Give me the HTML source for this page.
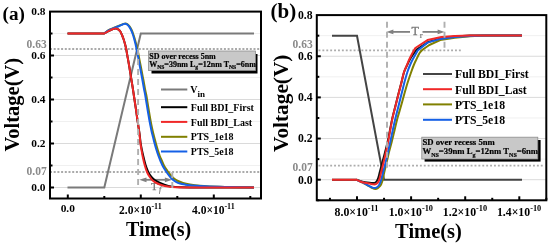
<!DOCTYPE html>
<html><head><meta charset="utf-8"><title>Figure</title>
<style>html,body{margin:0;padding:0;background:#fff;} svg{display:block;filter:blur(0.3px);}</style></head>
<body><svg width="550" height="247" viewBox="0 0 550 247">
<rect width="550" height="247" fill="#fff"/>
<line x1="50" y1="165.50" x2="261" y2="165.50" stroke="#f0f0f0" stroke-width="1"/>
<line x1="50" y1="121.50" x2="261" y2="121.50" stroke="#f0f0f0" stroke-width="1"/>
<line x1="50" y1="77.50" x2="261" y2="77.50" stroke="#f0f0f0" stroke-width="1"/>
<line x1="50" y1="33.50" x2="261" y2="33.50" stroke="#f0f0f0" stroke-width="1"/>
<line x1="50" y1="187.50" x2="261" y2="187.50" stroke="#dadada" stroke-width="1"/>
<line x1="50" y1="143.50" x2="261" y2="143.50" stroke="#dadada" stroke-width="1"/>
<line x1="50" y1="99.50" x2="261" y2="99.50" stroke="#dadada" stroke-width="1"/>
<line x1="50" y1="55.50" x2="261" y2="55.50" stroke="#dadada" stroke-width="1"/>
<line x1="50" y1="48.90" x2="261" y2="48.90" stroke="#aaaaaa" stroke-width="2" stroke-dasharray="2 1.7"/>
<line x1="50" y1="172.10" x2="261" y2="172.10" stroke="#aaaaaa" stroke-width="2" stroke-dasharray="2 1.7"/>
<g fill="#808080" stroke="#808080">
<line x1="145" y1="179.8" x2="166" y2="179.8" stroke-width="1.8"/>
<path d="M139.2,179.8 L146.5,177.4 L146.5,182.2 Z" stroke="none"/>
<path d="M172.2,179.8 L164.9,177.4 L164.9,182.2 Z" stroke="none"/>
</g>
<text x="151.1" y="190.1" style="font-family:'Liberation Serif',serif;font-size:11px;stroke:#7a7a7a;stroke-width:0.25" fill="#7a7a7a">T</text>
<text x="159.1" y="192.4" style="font-family:'Liberation Serif',serif;font-style:italic;font-size:8px;stroke:#7a7a7a;stroke-width:0.2" fill="#7a7a7a">f</text>
<path d="M67.50,187.50 L104.30,187.50 L140.80,33.50 L254.00,33.50" fill="none" stroke="#7a7a7a" stroke-width="2"/>
<path d="M67.50,33.50 L104.30,33.50 C105.08,33.05 107.55,31.55 109.00,30.80 C110.45,30.05 111.83,29.37 113.00,29.00 C114.17,28.63 115.08,28.50 116.00,28.60 C116.92,28.70 117.75,29.07 118.50,29.60 C119.25,30.13 119.92,30.90 120.50,31.80 C121.08,32.70 121.50,33.80 122.00,35.00 C122.50,36.20 123.00,37.50 123.50,39.00 C124.00,40.50 124.55,42.33 125.00,44.00 C125.45,45.67 125.83,47.17 126.20,49.00 C126.57,50.83 126.82,52.83 127.20,55.00 C127.58,57.17 128.03,59.33 128.50,62.00 C128.97,64.67 129.53,68.17 130.00,71.00 C130.47,73.83 130.87,76.33 131.30,79.00 C131.73,81.67 132.18,84.33 132.60,87.00 C133.02,89.67 133.40,92.33 133.80,95.00 C134.20,97.67 134.60,100.33 135.00,103.00 C135.40,105.67 135.82,108.33 136.20,111.00 C136.58,113.67 136.92,116.33 137.30,119.00 C137.68,121.67 138.10,124.33 138.50,127.00 C138.90,129.67 139.35,132.33 139.70,135.00 C140.05,137.67 140.23,140.50 140.60,143.00 C140.97,145.50 141.42,147.67 141.90,150.00 C142.38,152.33 142.88,154.50 143.50,157.00 C144.12,159.50 144.83,162.57 145.60,165.00 C146.37,167.43 147.17,169.68 148.10,171.60 C149.03,173.52 150.10,175.10 151.20,176.50 C152.30,177.90 153.23,178.92 154.70,180.00 C156.17,181.08 158.28,182.17 160.00,183.00 C161.72,183.83 163.17,184.42 165.00,185.00 C166.83,185.58 168.50,186.12 171.00,186.50 C173.50,186.88 176.00,187.13 180.00,187.30 C184.00,187.47 182.67,187.47 195.00,187.50 C207.33,187.53 244.17,187.50 254.00,187.50" fill="none" stroke="#000" stroke-width="2" stroke-linejoin="round"/>
<path d="M104.30,33.50 C104.75,33.13 106.05,31.97 107.00,31.30 C107.95,30.63 108.83,30.08 110.00,29.50 C111.17,28.92 112.67,28.33 114.00,27.80 C115.33,27.27 116.83,26.77 118.00,26.30 C119.17,25.83 120.17,25.37 121.00,25.00 C121.83,24.63 122.25,24.37 123.00,24.10 C123.75,23.83 124.75,23.38 125.50,23.40 C126.25,23.42 126.83,23.72 127.50,24.20 C128.17,24.68 128.83,25.37 129.50,26.30 C130.17,27.23 130.88,28.52 131.50,29.80 C132.12,31.08 132.65,32.47 133.20,34.00 C133.75,35.53 134.32,37.33 134.80,39.00 C135.28,40.67 135.68,42.33 136.10,44.00 C136.52,45.67 136.92,47.33 137.30,49.00 C137.68,50.67 138.05,52.25 138.40,54.00 C138.75,55.75 138.98,57.33 139.40,59.50 C139.82,61.67 140.40,64.42 140.90,67.00 C141.40,69.58 141.95,72.67 142.40,75.00 C142.85,77.33 143.17,78.67 143.60,81.00 C144.03,83.33 144.55,86.67 145.00,89.00 C145.45,91.33 145.87,92.67 146.30,95.00 C146.73,97.33 147.17,100.33 147.60,103.00 C148.03,105.67 148.48,108.50 148.90,111.00 C149.32,113.50 149.68,115.67 150.10,118.00 C150.52,120.33 150.97,122.83 151.40,125.00 C151.83,127.17 152.23,129.00 152.70,131.00 C153.17,133.00 153.68,135.00 154.20,137.00 C154.72,139.00 155.20,140.83 155.80,143.00 C156.40,145.17 157.13,147.83 157.80,150.00 C158.47,152.17 159.10,154.17 159.80,156.00 C160.50,157.83 161.22,159.25 162.00,161.00 C162.78,162.75 163.58,164.83 164.50,166.50 C165.42,168.17 166.50,169.58 167.50,171.00 C168.50,172.42 169.42,173.75 170.50,175.00 C171.58,176.25 172.75,177.50 174.00,178.50 C175.25,179.50 176.50,180.25 178.00,181.00 C179.50,181.75 181.00,182.42 183.00,183.00 C185.00,183.58 187.17,184.03 190.00,184.50 C192.83,184.97 196.67,185.48 200.00,185.80 C203.33,186.12 205.83,186.22 210.00,186.40 C214.17,186.58 220.00,186.77 225.00,186.90 C230.00,187.03 235.17,187.12 240.00,187.20 C244.83,187.28 251.67,187.37 254.00,187.40" fill="none" stroke="#808000" stroke-width="2" stroke-linejoin="round"/>
<path d="M104.30,33.50 C104.75,33.15 106.05,32.05 107.00,31.40 C107.95,30.75 108.83,30.17 110.00,29.60 C111.17,29.03 112.67,28.52 114.00,28.00 C115.33,27.48 116.83,26.97 118.00,26.50 C119.17,26.03 120.17,25.57 121.00,25.20 C121.83,24.83 122.33,24.55 123.00,24.30 C123.67,24.05 124.33,23.70 125.00,23.70 C125.67,23.70 126.33,23.87 127.00,24.30 C127.67,24.73 128.33,25.38 129.00,26.30 C129.67,27.22 130.38,28.52 131.00,29.80 C131.62,31.08 132.17,32.47 132.70,34.00 C133.23,35.53 133.73,37.33 134.20,39.00 C134.67,40.67 135.10,42.33 135.50,44.00 C135.90,45.67 136.25,47.33 136.60,49.00 C136.95,50.67 137.27,52.25 137.60,54.00 C137.93,55.75 138.20,57.33 138.60,59.50 C139.00,61.67 139.52,64.42 140.00,67.00 C140.48,69.58 141.07,72.67 141.50,75.00 C141.93,77.33 142.18,78.67 142.60,81.00 C143.02,83.33 143.57,86.67 144.00,89.00 C144.43,91.33 144.78,92.67 145.20,95.00 C145.62,97.33 146.07,100.33 146.50,103.00 C146.93,105.67 147.38,108.50 147.80,111.00 C148.22,113.50 148.58,115.67 149.00,118.00 C149.42,120.33 149.88,122.83 150.30,125.00 C150.72,127.17 151.05,129.00 151.50,131.00 C151.95,133.00 152.50,135.00 153.00,137.00 C153.50,139.00 153.92,140.83 154.50,143.00 C155.08,145.17 155.83,147.83 156.50,150.00 C157.17,152.17 157.83,154.17 158.50,156.00 C159.17,157.83 159.75,159.25 160.50,161.00 C161.25,162.75 162.00,164.67 163.00,166.50 C164.00,168.33 165.50,170.50 166.50,172.00 C167.50,173.50 168.08,174.33 169.00,175.50 C169.92,176.67 170.83,177.95 172.00,179.00 C173.17,180.05 174.67,181.05 176.00,181.80 C177.33,182.55 178.50,183.03 180.00,183.50 C181.50,183.97 183.33,184.30 185.00,184.60 C186.67,184.90 187.50,185.07 190.00,185.30 C192.50,185.53 196.67,185.80 200.00,186.00 C203.33,186.20 205.83,186.35 210.00,186.50 C214.17,186.65 220.00,186.78 225.00,186.90 C230.00,187.02 235.17,187.12 240.00,187.20 C244.83,187.28 251.67,187.37 254.00,187.40" fill="none" stroke="#1560e6" stroke-width="2" stroke-linejoin="round"/>
<path d="M67.50,33.50 L104.30,33.50 C105.08,33.05 107.55,31.55 109.00,30.80 C110.45,30.05 111.83,29.37 113.00,29.00 C114.17,28.63 115.08,28.50 116.00,28.60 C116.92,28.70 117.75,29.07 118.50,29.60 C119.25,30.13 119.92,30.90 120.50,31.80 C121.08,32.70 121.50,33.80 122.00,35.00 C122.50,36.20 123.00,37.50 123.50,39.00 C124.00,40.50 124.55,42.33 125.00,44.00 C125.45,45.67 125.83,47.17 126.20,49.00 C126.57,50.83 126.82,52.83 127.20,55.00 C127.58,57.17 128.03,59.33 128.50,62.00 C128.97,64.67 129.53,68.17 130.00,71.00 C130.47,73.83 130.87,76.33 131.30,79.00 C131.73,81.67 132.18,84.33 132.60,87.00 C133.02,89.67 133.40,92.33 133.80,95.00 C134.20,97.67 134.60,100.33 135.00,103.00 C135.40,105.67 135.82,108.33 136.20,111.00 C136.58,113.67 136.92,116.33 137.30,119.00 C137.68,121.67 138.12,124.33 138.50,127.00 C138.88,129.67 139.28,132.33 139.60,135.00 C139.92,137.67 140.08,140.50 140.40,143.00 C140.72,145.50 141.10,147.67 141.50,150.00 C141.90,152.33 142.27,154.50 142.80,157.00 C143.33,159.50 144.00,162.50 144.70,165.00 C145.40,167.50 146.15,170.00 147.00,172.00 C147.85,174.00 148.80,175.55 149.80,177.00 C150.80,178.45 151.72,179.62 153.00,180.70 C154.28,181.78 156.00,182.73 157.50,183.50 C159.00,184.27 160.25,184.80 162.00,185.30 C163.75,185.80 165.67,186.18 168.00,186.50 C170.33,186.82 172.33,187.03 176.00,187.20 C179.67,187.37 177.00,187.45 190.00,187.50 C203.00,187.55 243.33,187.50 254.00,187.50" fill="none" stroke="#f02828" stroke-width="2" stroke-linejoin="round"/>
<line x1="138.1" y1="49" x2="138.1" y2="185" stroke="#b0b0b0" stroke-width="1.9" stroke-dasharray="5.9 4.1"/>
<line x1="172.3" y1="172" x2="172.3" y2="188" stroke="#b0b0b0" stroke-width="1.9" stroke-dasharray="5.9 4.1"/>
<rect x="50" y="11.6" width="211" height="186.9" fill="none" stroke="#000" stroke-width="2"/>
<line x1="50" y1="187.50" x2="54" y2="187.50" stroke="#000" stroke-width="2"/>
<line x1="50" y1="143.50" x2="54" y2="143.50" stroke="#000" stroke-width="2"/>
<line x1="50" y1="99.50" x2="54" y2="99.50" stroke="#000" stroke-width="2"/>
<line x1="50" y1="55.50" x2="54" y2="55.50" stroke="#000" stroke-width="2"/>
<line x1="50" y1="165.50" x2="52.5" y2="165.50" stroke="#000" stroke-width="2"/>
<line x1="50" y1="121.50" x2="52.5" y2="121.50" stroke="#000" stroke-width="2"/>
<line x1="50" y1="77.50" x2="52.5" y2="77.50" stroke="#000" stroke-width="2"/>
<line x1="50" y1="33.50" x2="52.5" y2="33.50" stroke="#000" stroke-width="2"/>
<line x1="67.80" y1="198.5" x2="67.80" y2="194.5" stroke="#000" stroke-width="2"/>
<line x1="140.80" y1="198.5" x2="140.80" y2="194.5" stroke="#000" stroke-width="2"/>
<line x1="213.80" y1="198.5" x2="213.80" y2="194.5" stroke="#000" stroke-width="2"/>
<line x1="104.30" y1="198.5" x2="104.30" y2="196.0" stroke="#000" stroke-width="2"/>
<line x1="177.30" y1="198.5" x2="177.30" y2="196.0" stroke="#000" stroke-width="2"/>
<line x1="250.30" y1="198.5" x2="250.30" y2="196.0" stroke="#000" stroke-width="2"/>
<rect x="151.5" y="54" width="106" height="19.5" fill="#000"/>
<rect x="148.5" y="51" width="107" height="19.5" fill="#c8c8c8" stroke="#8c8c8c" stroke-width="0.8"/>
<text x="149.2" y="58.6" style="font-family:'Liberation Serif','Times New Roman',serif;font-weight:bold;font-size:8px;stroke:#000;stroke-width:0.2" fill="#000">SD over recess 5nm</text>
<text x="149.2" y="66.6" style="font-family:'Liberation Serif','Times New Roman',serif;font-weight:bold;font-size:8px;stroke:#000;stroke-width:0.2" fill="#000">W<tspan dy="2.6" style="font-size:5.6px">NS</tspan><tspan dy="-2.6">=39nm L</tspan><tspan dy="2.6" style="font-size:5.6px">g</tspan><tspan dy="-2.6">=12nm T</tspan><tspan dy="2.6" style="font-size:5.6px">NS</tspan><tspan dy="-2.6">=6nm</tspan></text>
<line x1="161" y1="89.5" x2="187.3" y2="89.5" stroke="#7a7a7a" stroke-width="2"/>
<line x1="161" y1="107.2" x2="187.3" y2="107.2" stroke="#000" stroke-width="2"/>
<text x="190.8" y="110.8" style="font-family:'Liberation Serif','Times New Roman',serif;font-weight:bold;font-size:10px" fill="#000">Full BDI_First</text>
<line x1="161" y1="121.9" x2="187.3" y2="121.9" stroke="#f02828" stroke-width="2"/>
<text x="190.8" y="125.5" style="font-family:'Liberation Serif','Times New Roman',serif;font-weight:bold;font-size:10px" fill="#000">Full BDI_Last</text>
<line x1="161" y1="136.8" x2="187.3" y2="136.8" stroke="#808000" stroke-width="2"/>
<text x="190.8" y="140.4" style="font-family:'Liberation Serif','Times New Roman',serif;font-weight:bold;font-size:10px" fill="#000">PTS_1e18</text>
<line x1="161" y1="151.5" x2="187.3" y2="151.5" stroke="#1560e6" stroke-width="2"/>
<text x="190.8" y="155.1" style="font-family:'Liberation Serif','Times New Roman',serif;font-weight:bold;font-size:10px" fill="#000">PTS_5e18</text>
<text x="190.3" y="93.3" style="font-family:'Liberation Serif','Times New Roman',serif;font-weight:bold;font-size:10px" fill="#000">V<tspan dy="3.5" style="font-size:9px">in</tspan></text>
<text x="2.6" y="19.9" style="font-family:'Liberation Serif','Times New Roman',serif;font-weight:bold;font-size:19.2px" fill="#000">(a)</text>
<text x="45.5" y="15.40" text-anchor="end" style="font-family:'Liberation Serif','Times New Roman',serif;font-weight:bold;font-size:11.4px" fill="#000">0.8</text>
<text x="45.5" y="59.40" text-anchor="end" style="font-family:'Liberation Serif','Times New Roman',serif;font-weight:bold;font-size:11.4px" fill="#000">0.6</text>
<text x="45.5" y="103.40" text-anchor="end" style="font-family:'Liberation Serif','Times New Roman',serif;font-weight:bold;font-size:11.4px" fill="#000">0.4</text>
<text x="45.5" y="147.40" text-anchor="end" style="font-family:'Liberation Serif','Times New Roman',serif;font-weight:bold;font-size:11.4px" fill="#000">0.2</text>
<text x="45.5" y="191.40" text-anchor="end" style="font-family:'Liberation Serif','Times New Roman',serif;font-weight:bold;font-size:11.4px" fill="#000">0.0</text>
<text x="46.7" y="48.0" text-anchor="end" style="font-family:'Liberation Serif','Times New Roman',serif;font-weight:bold;font-size:11.5px" fill="#8a8a8a">0.63</text>
<text x="46.7" y="174.5" text-anchor="end" style="font-family:'Liberation Serif','Times New Roman',serif;font-weight:bold;font-size:11.5px" fill="#8a8a8a">0.07</text>
<text transform="translate(18.8,104.7) rotate(-90)" text-anchor="middle" style="font-family:'Liberation Serif','Times New Roman',serif;font-weight:bold;font-size:20.5px" fill="#000">Voltage(V)</text>
<text x="67.8" y="211.9" text-anchor="middle" style="font-family:'Liberation Serif','Times New Roman',serif;font-weight:bold;font-size:11.4px" fill="#000">0.0</text>
<text x="119.00" y="213.6" style="font-family:'Liberation Serif','Times New Roman',serif;font-weight:bold;font-size:11.5px" fill="#000">2.0×10<tspan dy="-4.4" style="font-size:8px">-11</tspan></text>
<text x="192.00" y="213.6" style="font-family:'Liberation Serif','Times New Roman',serif;font-weight:bold;font-size:11.5px" fill="#000">4.0×10<tspan dy="-4.4" style="font-size:8px">-11</tspan></text>
<text x="158.6" y="236.0" text-anchor="middle" style="font-family:'Liberation Serif','Times New Roman',serif;font-weight:bold;font-size:20px" fill="#000">Time(s)</text>
<line x1="316.8" y1="159.12" x2="546.3" y2="159.12" stroke="#f0f0f0" stroke-width="1"/>
<line x1="316.8" y1="117.97" x2="546.3" y2="117.97" stroke="#f0f0f0" stroke-width="1"/>
<line x1="316.8" y1="76.82" x2="546.3" y2="76.82" stroke="#f0f0f0" stroke-width="1"/>
<line x1="316.8" y1="35.68" x2="546.3" y2="35.68" stroke="#f0f0f0" stroke-width="1"/>
<line x1="316.8" y1="179.70" x2="546.3" y2="179.70" stroke="#dadada" stroke-width="1"/>
<line x1="316.8" y1="138.55" x2="546.3" y2="138.55" stroke="#dadada" stroke-width="1"/>
<line x1="316.8" y1="97.40" x2="546.3" y2="97.40" stroke="#dadada" stroke-width="1"/>
<line x1="316.8" y1="56.25" x2="546.3" y2="56.25" stroke="#dadada" stroke-width="1"/>
<line x1="318.5" y1="50.4" x2="462" y2="50.4" stroke="#acacac" stroke-width="1.9" stroke-dasharray="1.9 2.0"/>
<line x1="318.5" y1="165.6" x2="544" y2="165.6" stroke="#acacac" stroke-width="1.9" stroke-dasharray="1.9 2.0"/>
<g fill="#808080" stroke="#808080">
<line x1="392" y1="31.9" x2="410" y2="31.9" stroke-width="1.8"/>
<line x1="422.5" y1="31.9" x2="439" y2="31.9" stroke-width="1.8"/>
<path d="M386.4,31.9 L393.4,29.6 L393.4,34.2 Z" stroke="none"/>
<path d="M444.6,31.9 L437.6,29.6 L437.6,34.2 Z" stroke="none"/>
</g>
<text x="411.4" y="34.9" style="font-family:'Liberation Serif',serif;font-size:12.2px;stroke:#787878;stroke-width:0.3" fill="#787878">T</text>
<text x="419.8" y="38.2" style="font-family:'Liberation Serif',serif;font-size:8.5px;stroke:#787878;stroke-width:0.2" fill="#787878">r</text>
<path d="M332.00,35.70 L357.00,35.70 L384.00,179.70 L522.00,179.70" fill="none" stroke="#444444" stroke-width="2"/>
<path d="M332.00,179.70 L356.50,179.70 C357.22,179.97 359.38,180.88 360.80,181.30 C362.22,181.72 363.53,181.95 365.00,182.20 C366.47,182.45 368.27,182.67 369.60,182.80 C370.93,182.93 372.03,183.03 373.00,183.00 C373.97,182.97 374.73,182.97 375.40,182.60 C376.07,182.23 376.52,181.60 377.00,180.80 C377.48,180.00 377.83,179.27 378.30,177.80 C378.77,176.33 379.20,174.30 379.80,172.00 C380.40,169.70 381.10,167.00 381.90,164.00 C382.70,161.00 383.65,157.67 384.60,154.00 C385.55,150.33 386.70,146.00 387.60,142.00 C388.50,138.00 389.20,134.00 390.00,130.00 C390.80,126.00 391.50,122.00 392.40,118.00 C393.30,114.00 394.40,110.00 395.40,106.00 C396.40,102.00 397.42,97.83 398.40,94.00 C399.38,90.17 400.35,86.67 401.30,83.00 C402.25,79.33 403.10,75.03 404.10,72.00 C405.10,68.97 406.22,67.10 407.30,64.80 C408.38,62.50 409.05,60.73 410.60,58.20 C412.15,55.67 415.60,51.03 416.60,49.60 L428.50,41.90 L442.00,38.20 L455.00,36.40 L470.00,35.60 L485.00,35.45 L522.00,35.40" fill="none" stroke="#111" stroke-width="2" stroke-linejoin="round"/>
<path d="M356.50,179.70 C357.22,180.05 359.63,181.25 360.80,181.80 C361.97,182.35 362.52,182.50 363.50,183.00 C364.48,183.50 365.62,184.18 366.70,184.80 C367.78,185.42 369.03,186.13 370.00,186.70 C370.97,187.27 371.60,187.82 372.50,188.20 C373.40,188.58 374.52,189.00 375.40,189.00 C376.28,189.00 377.00,188.70 377.80,188.20 C378.60,187.70 379.58,186.78 380.20,186.00 C380.82,185.22 381.08,184.55 381.50,183.50 C381.92,182.45 382.27,181.45 382.70,179.70 C383.13,177.95 383.47,175.78 384.10,173.00 C384.73,170.22 385.68,166.50 386.50,163.00 C387.32,159.50 388.13,155.50 389.00,152.00 C389.87,148.50 390.77,145.67 391.70,142.00 C392.63,138.33 393.63,134.00 394.60,130.00 C395.57,126.00 396.43,122.00 397.50,118.00 C398.57,114.00 399.87,110.00 401.00,106.00 C402.13,102.00 403.22,97.83 404.30,94.00 C405.38,90.17 406.35,86.67 407.50,83.00 C408.65,79.33 410.15,75.00 411.20,72.00 C412.25,69.00 412.93,67.10 413.80,65.00 C414.67,62.90 415.43,61.40 416.40,59.40 C417.37,57.40 418.47,54.70 419.60,53.00 C420.73,51.30 422.60,49.83 423.20,49.20 L429.30,45.00 L440.20,40.10 L454.80,37.80 L470.00,36.30 L485.00,35.60 L522.00,35.40" fill="none" stroke="#808000" stroke-width="2" stroke-linejoin="round"/>
<path d="M356.50,179.70 C357.22,180.03 359.63,181.18 360.80,181.70 C361.97,182.22 362.52,182.32 363.50,182.80 C364.48,183.28 365.62,184.00 366.70,184.60 C367.78,185.20 369.03,185.90 370.00,186.40 C370.97,186.90 371.77,187.33 372.50,187.60 C373.23,187.87 373.73,188.02 374.40,188.00 C375.07,187.98 375.77,187.92 376.50,187.50 C377.23,187.08 378.22,186.25 378.80,185.50 C379.38,184.75 379.60,183.97 380.00,183.00 C380.40,182.03 380.67,181.53 381.20,179.70 C381.73,177.87 382.48,174.78 383.20,172.00 C383.92,169.22 384.70,166.33 385.50,163.00 C386.30,159.67 387.20,155.50 388.00,152.00 C388.80,148.50 389.50,145.67 390.30,142.00 C391.10,138.33 391.93,134.00 392.80,130.00 C393.67,126.00 394.55,122.00 395.50,118.00 C396.45,114.00 397.50,110.00 398.50,106.00 C399.50,102.00 400.50,98.00 401.50,94.00 C402.50,90.00 403.52,85.67 404.50,82.00 C405.48,78.33 406.40,75.00 407.40,72.00 C408.40,69.00 409.48,66.33 410.50,64.00 C411.52,61.67 412.30,60.25 413.50,58.00 C414.70,55.75 417.00,51.75 417.70,50.50 L427.50,42.60 L440.20,38.90 L454.80,36.90 L470.00,35.90 L485.00,35.50 L522.00,35.40" fill="none" stroke="#1560e6" stroke-width="2" stroke-linejoin="round"/>
<path d="M332.00,179.70 L356.50,179.70 C357.22,180.03 359.38,181.18 360.80,181.70 C362.22,182.22 363.53,182.48 365.00,182.80 C366.47,183.12 368.35,183.37 369.60,183.60 C370.85,183.83 371.70,184.07 372.50,184.20 C373.30,184.33 373.77,184.47 374.40,184.40 C375.03,184.33 375.73,184.10 376.30,183.80 C376.87,183.50 377.35,183.18 377.80,182.60 C378.25,182.02 378.67,181.10 379.00,180.30 C379.33,179.50 379.43,179.18 379.80,177.80 C380.17,176.42 380.63,174.30 381.20,172.00 C381.77,169.70 382.48,167.00 383.20,164.00 C383.92,161.00 384.70,157.67 385.50,154.00 C386.30,150.33 387.22,146.00 388.00,142.00 C388.78,138.00 389.45,134.00 390.20,130.00 C390.95,126.00 391.62,122.00 392.50,118.00 C393.38,114.00 394.50,110.00 395.50,106.00 C396.50,102.00 397.53,97.83 398.50,94.00 C399.47,90.17 400.38,86.67 401.30,83.00 C402.22,79.33 403.05,75.00 404.00,72.00 C404.95,69.00 406.02,67.33 407.00,65.00 C407.98,62.67 408.52,60.83 409.90,58.00 C411.28,55.17 414.40,49.67 415.30,48.00 L427.50,40.10 L441.40,37.10 L454.80,35.90 L470.00,35.50 L485.00,35.42 L522.00,35.40" fill="none" stroke="#f02828" stroke-width="2" stroke-linejoin="round"/>
<line x1="387" y1="21.8" x2="387" y2="168" stroke="#b0b0b0" stroke-width="1.9" stroke-dasharray="5.9 4.1"/>
<line x1="444.5" y1="21.8" x2="444.5" y2="51" stroke="#b0b0b0" stroke-width="1.9" stroke-dasharray="5.9 4.1"/>
<rect x="316.8" y="15.1" width="229.49999999999994" height="185.20000000000002" fill="none" stroke="#000" stroke-width="2"/>
<line x1="316.8" y1="179.70" x2="320.8" y2="179.70" stroke="#000" stroke-width="2"/>
<line x1="316.8" y1="138.55" x2="320.8" y2="138.55" stroke="#000" stroke-width="2"/>
<line x1="316.8" y1="97.40" x2="320.8" y2="97.40" stroke="#000" stroke-width="2"/>
<line x1="316.8" y1="56.25" x2="320.8" y2="56.25" stroke="#000" stroke-width="2"/>
<line x1="316.8" y1="200.27" x2="319.3" y2="200.27" stroke="#000" stroke-width="2"/>
<line x1="316.8" y1="159.12" x2="319.3" y2="159.12" stroke="#000" stroke-width="2"/>
<line x1="316.8" y1="117.97" x2="319.3" y2="117.97" stroke="#000" stroke-width="2"/>
<line x1="316.8" y1="76.82" x2="319.3" y2="76.82" stroke="#000" stroke-width="2"/>
<line x1="316.8" y1="35.68" x2="319.3" y2="35.68" stroke="#000" stroke-width="2"/>
<line x1="357.00" y1="200.3" x2="357.00" y2="196.3" stroke="#000" stroke-width="2"/>
<line x1="411.10" y1="200.3" x2="411.10" y2="196.3" stroke="#000" stroke-width="2"/>
<line x1="465.20" y1="200.3" x2="465.20" y2="196.3" stroke="#000" stroke-width="2"/>
<line x1="519.30" y1="200.3" x2="519.30" y2="196.3" stroke="#000" stroke-width="2"/>
<line x1="329.95" y1="200.3" x2="329.95" y2="197.8" stroke="#000" stroke-width="2"/>
<line x1="384.05" y1="200.3" x2="384.05" y2="197.8" stroke="#000" stroke-width="2"/>
<line x1="438.15" y1="200.3" x2="438.15" y2="197.8" stroke="#000" stroke-width="2"/>
<line x1="492.25" y1="200.3" x2="492.25" y2="197.8" stroke="#000" stroke-width="2"/>
<line x1="546.35" y1="200.3" x2="546.35" y2="197.8" stroke="#000" stroke-width="2"/>
<rect x="424.6" y="140" width="116" height="21.6" fill="#000"/>
<rect x="421.8" y="137.2" width="116" height="21.8" fill="#c8c8c8" stroke="#8c8c8c" stroke-width="0.8"/>
<text x="422.5" y="144.9" style="font-family:'Liberation Serif','Times New Roman',serif;font-weight:bold;font-size:8.7px;stroke:#000;stroke-width:0.2" fill="#000">SD over recess 5nm</text>
<text x="422.5" y="153.8" style="font-family:'Liberation Serif','Times New Roman',serif;font-weight:bold;font-size:8.7px;stroke:#000;stroke-width:0.2" fill="#000">W<tspan dy="3" style="font-size:6px">NS</tspan><tspan dy="-3">=39nm L</tspan><tspan dy="3" style="font-size:6px">g</tspan><tspan dy="-3">=12nm T</tspan><tspan dy="3" style="font-size:6px">NS</tspan><tspan dy="-3">=6nm</tspan></text>
<line x1="423" y1="74" x2="452" y2="74" stroke="#444444" stroke-width="2"/>
<text x="455" y="78.4" style="font-family:'Liberation Serif','Times New Roman',serif;font-weight:bold;font-size:11.7px" fill="#000">Full BDI_First</text>
<line x1="423" y1="89.2" x2="452" y2="89.2" stroke="#f02828" stroke-width="2"/>
<text x="455" y="93.6" style="font-family:'Liberation Serif','Times New Roman',serif;font-weight:bold;font-size:11.7px" fill="#000">Full BDI_Last</text>
<line x1="423" y1="104.4" x2="452" y2="104.4" stroke="#808000" stroke-width="2"/>
<text x="455" y="108.8" style="font-family:'Liberation Serif','Times New Roman',serif;font-weight:bold;font-size:11.7px" fill="#000">PTS_1e18</text>
<line x1="423" y1="119.8" x2="452" y2="119.8" stroke="#1560e6" stroke-width="2"/>
<text x="455" y="124.2" style="font-family:'Liberation Serif','Times New Roman',serif;font-weight:bold;font-size:11.7px" fill="#000">PTS_5e18</text>
<text x="270.6" y="17.6" style="font-family:'Liberation Serif','Times New Roman',serif;font-weight:bold;font-size:21px" fill="#000">(b)</text>
<text x="312.5" y="19.00" text-anchor="end" style="font-family:'Liberation Serif','Times New Roman',serif;font-weight:bold;font-size:11.7px" fill="#000">0.8</text>
<text x="312.5" y="60.15" text-anchor="end" style="font-family:'Liberation Serif','Times New Roman',serif;font-weight:bold;font-size:11.7px" fill="#000">0.6</text>
<text x="312.5" y="101.30" text-anchor="end" style="font-family:'Liberation Serif','Times New Roman',serif;font-weight:bold;font-size:11.7px" fill="#000">0.4</text>
<text x="312.5" y="142.45" text-anchor="end" style="font-family:'Liberation Serif','Times New Roman',serif;font-weight:bold;font-size:11.7px" fill="#000">0.2</text>
<text x="312.5" y="183.60" text-anchor="end" style="font-family:'Liberation Serif','Times New Roman',serif;font-weight:bold;font-size:11.7px" fill="#000">0.0</text>
<text x="312.7" y="47.8" text-anchor="end" style="font-family:'Liberation Serif','Times New Roman',serif;font-weight:bold;font-size:11.5px" fill="#8a8a8a">0.63</text>
<text x="312.7" y="170.6" text-anchor="end" style="font-family:'Liberation Serif','Times New Roman',serif;font-weight:bold;font-size:11.5px" fill="#8a8a8a">0.07</text>
<text transform="translate(288.0,103.3) rotate(-90)" text-anchor="middle" style="font-family:'Liberation Serif','Times New Roman',serif;font-weight:bold;font-size:21.3px" fill="#000">Voltage(V)</text>
<text x="334.60" y="215.5" style="font-family:'Liberation Serif','Times New Roman',serif;font-weight:bold;font-size:11.8px" fill="#000">8.0×10<tspan dy="-4.5" style="font-size:8.3px">-11</tspan></text>
<text x="388.70" y="215.5" style="font-family:'Liberation Serif','Times New Roman',serif;font-weight:bold;font-size:11.8px" fill="#000">1.0×10<tspan dy="-4.5" style="font-size:8.3px">-10</tspan></text>
<text x="442.80" y="215.5" style="font-family:'Liberation Serif','Times New Roman',serif;font-weight:bold;font-size:11.8px" fill="#000">1.2×10<tspan dy="-4.5" style="font-size:8.3px">-10</tspan></text>
<text x="496.90" y="215.5" style="font-family:'Liberation Serif','Times New Roman',serif;font-weight:bold;font-size:11.8px" fill="#000">1.4×10<tspan dy="-4.5" style="font-size:8.3px">-10</tspan></text>
<text x="428.5" y="238.2" text-anchor="middle" style="font-family:'Liberation Serif','Times New Roman',serif;font-weight:bold;font-size:20.5px" fill="#000">Time(s)</text>
</svg></body></html>
